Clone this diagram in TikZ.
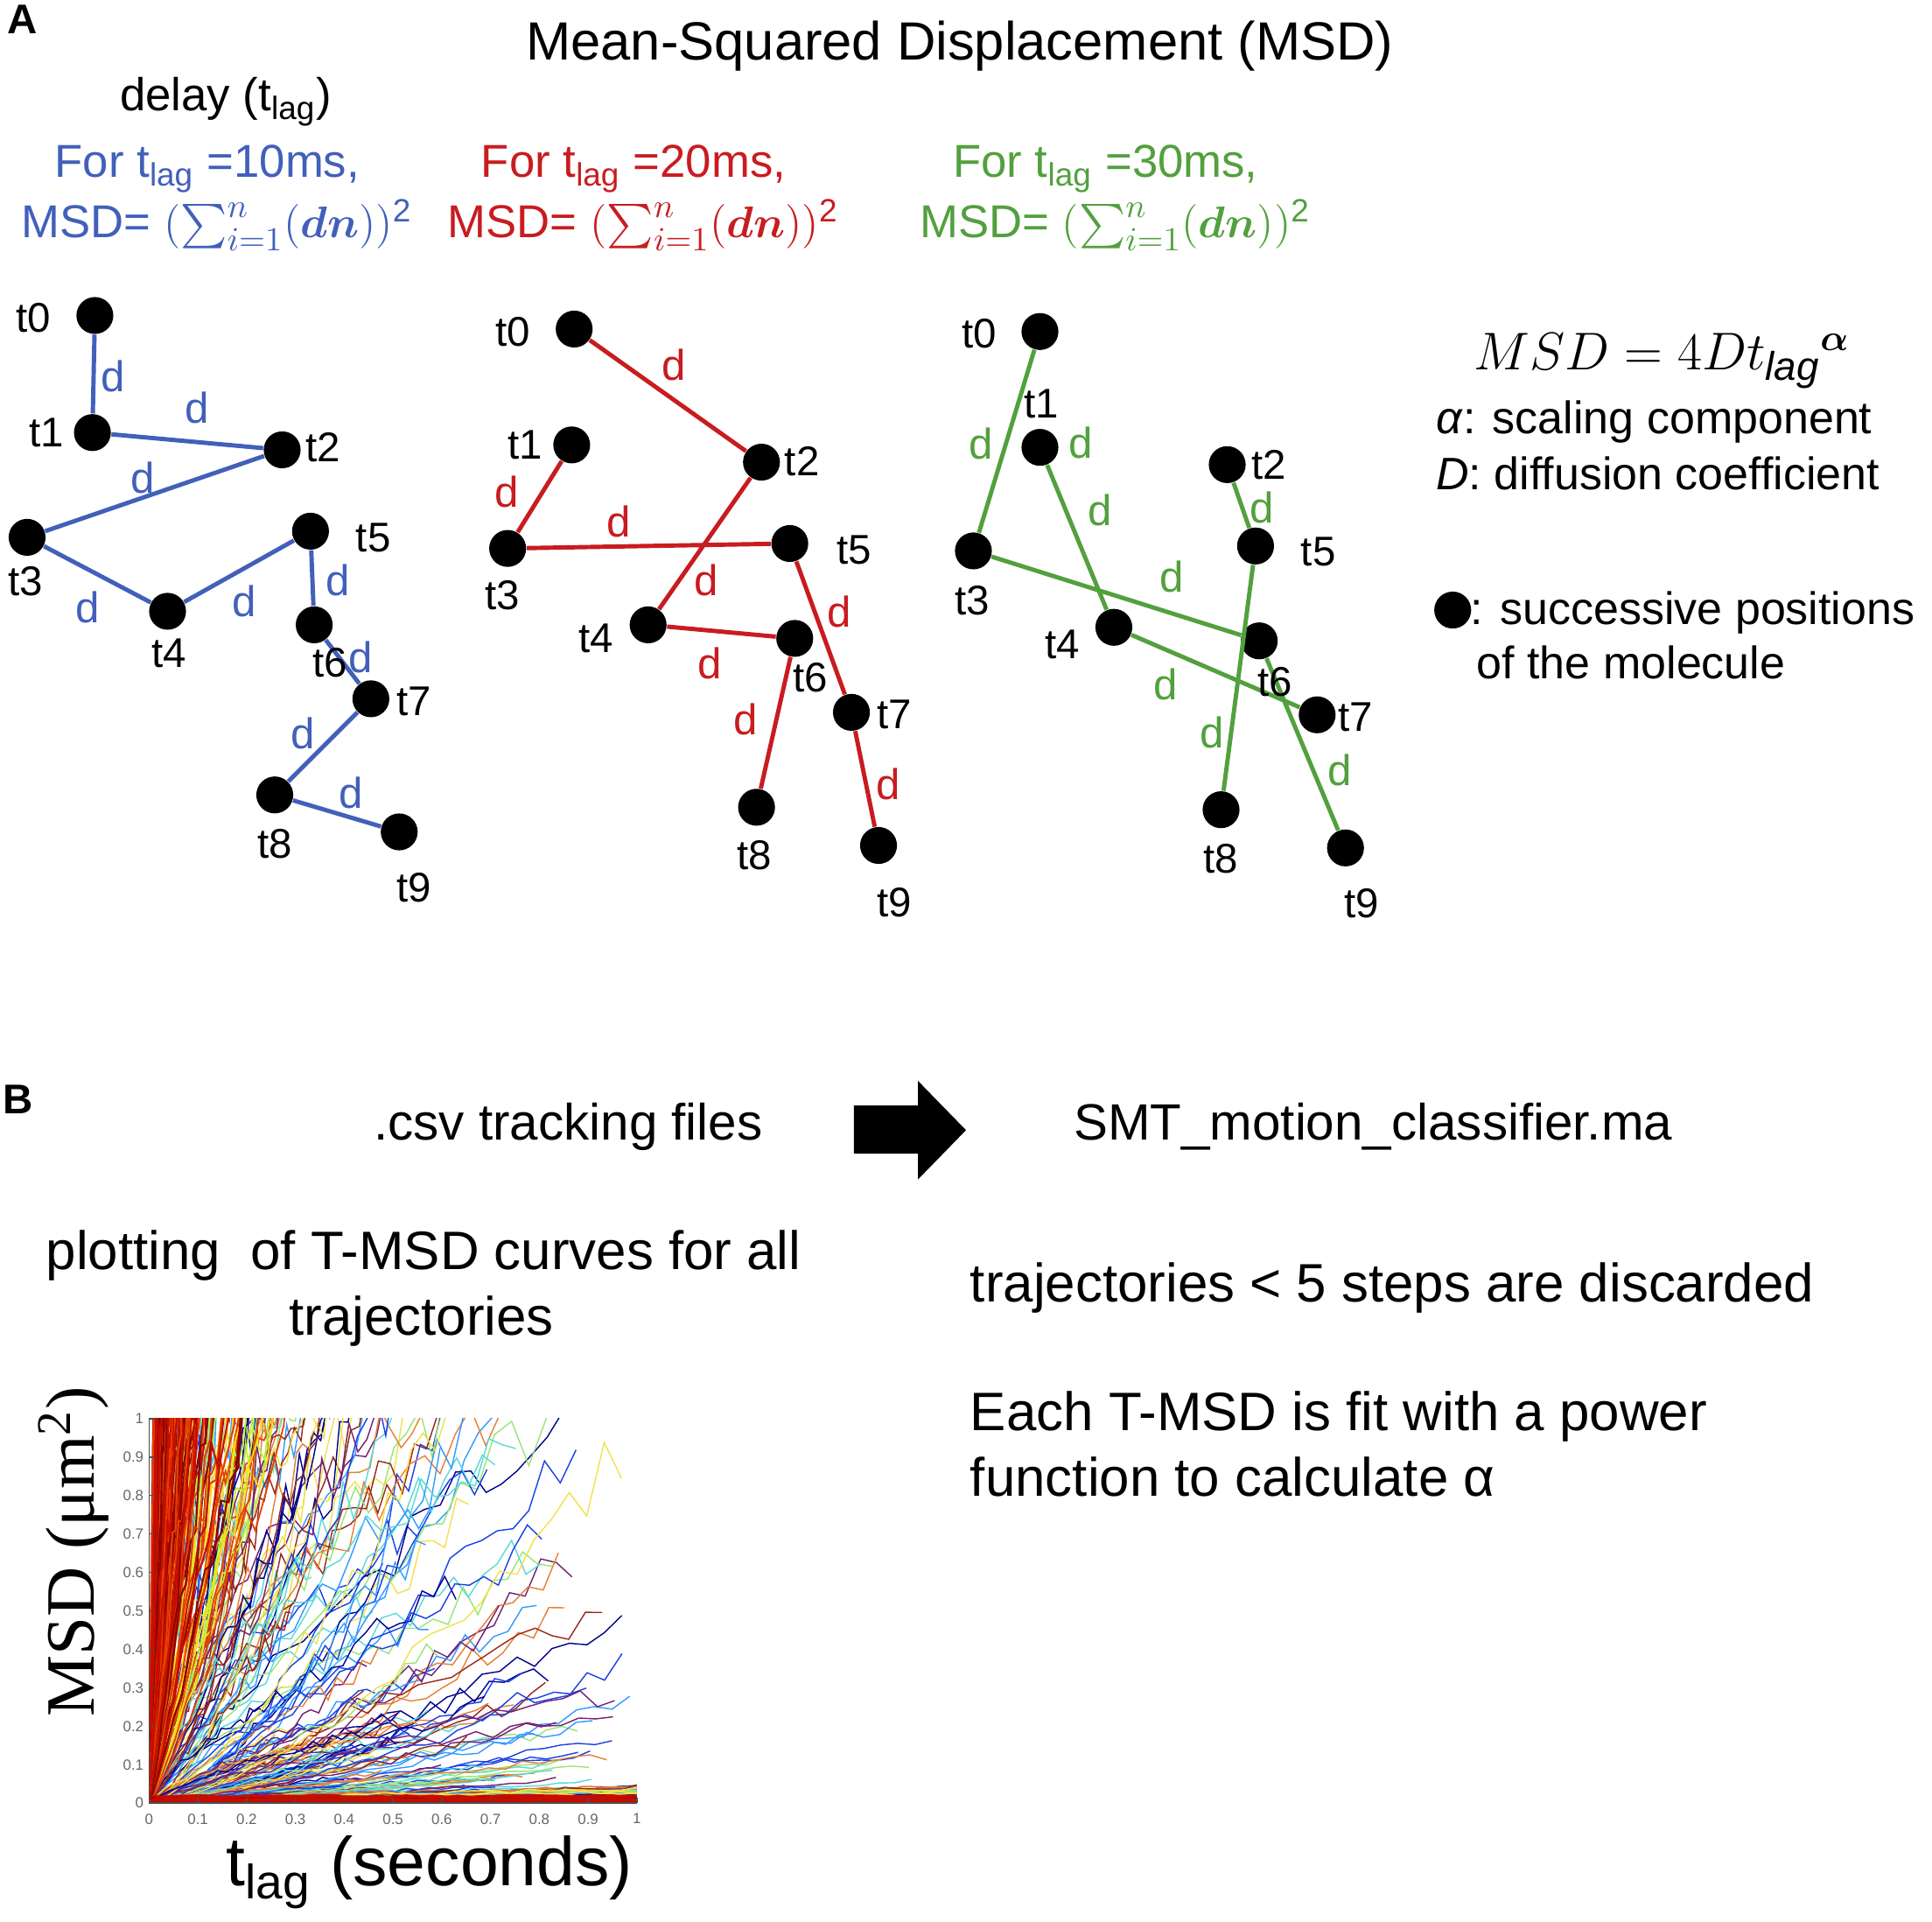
\documentclass[tikz,border=0pt]{standalone}
\usepackage{amsmath}
\usepackage{fontspec}
\setmainfont{Liberation Sans}
\newfontfamily\timesfont{Liberation Serif}
\usetikzlibrary{calc}

\definecolor{trkblue}{RGB}{66,96,186}
\definecolor{trkred}{RGB}{200,28,32}
\definecolor{trkgreen}{RGB}{82,160,62}
\definecolor{jet1}{rgb}{0,0,0.55}
\definecolor{jet2}{rgb}{0.1,0.25,0.9}
\definecolor{jet3}{rgb}{0.2,0.6,1}
\definecolor{jet4}{rgb}{0.35,0.85,0.85}
\definecolor{jet5}{rgb}{0.6,0.9,0.45}
\definecolor{jet6}{rgb}{0.95,0.88,0.3}
\definecolor{jet7}{rgb}{0.9,0.5,0.2}
\definecolor{jet8}{rgb}{0.6,0.15,0.1}
\definecolor{jet9}{rgb}{0.45,0.12,0.45}
\definecolor{hot1}{rgb}{0.78,0.05,0}
\definecolor{hot2}{rgb}{0.55,0.02,0}
\definecolor{hot3}{rgb}{0.9,0.25,0}
\definecolor{hot4}{rgb}{1,0.85,0.1}
\definecolor{hot5}{rgb}{0.75,0.95,0.2}

\tikzset{
  dot/.style={circle, fill=black, inner sep=0pt, minimum size=12pt},
  tlab/.style={font=\fontsize{13.5}{14}\selectfont, inner sep=0pt},
  dlab/.style={font=\fontsize{14}{14}\selectfont, inner sep=0pt},
  hdr/.style={font=\fontsize{15}{18}\selectfont, inner sep=0pt, anchor=base west},
  legend/.style={font=\fontsize{14.8}{18}\selectfont, inner sep=0pt, anchor=base west},
  btxt/.style={font=\fontsize{17.6}{21}\selectfont, inner sep=0pt, anchor=base west},
  panel/.style={font=\fontsize{13.5}{14}\selectfont\bfseries, inner sep=0pt},
  tick/.style={font=\fontsize{4.8}{5}\selectfont, text=black!60, inner sep=0pt},
  trk/.style={line width=1.4pt},
}

\begin{document}
\begin{tikzpicture}[x=0.01408cm, y=-0.01408cm]
\useasboundingbox (0,0) rectangle (1568,1559);

\node[panel] (lblA) at (18,16) {A};
\node[font=\fontsize{17.5}{20}\selectfont, inner sep=0pt, anchor=base] (title) at (779,49) {Mean-Squared Displacement (MSD)};
\node[hdr] (delay) at (97,90) {delay (t\textsubscript{lag})};

\node[hdr, text=trkblue] (forb) at (44,144) {For t\textsubscript{lag} =10ms,};
\node[hdr, text=trkblue] (msdb) at (17,193) {MSD= $(\sum_{i=1}^{n}(\boldsymbol{dn}))$\textsuperscript{2}};
\node[hdr, text=trkred] (forr) at (390,144) {For t\textsubscript{lag} =20ms,};
\node[hdr, text=trkred] (msdr) at (363,193) {MSD= $(\sum_{i=1}^{n}(\boldsymbol{dn}))$\textsuperscript{2}};
\node[hdr, text=trkgreen] (forg) at (773,144) {For t\textsubscript{lag} =30ms,};
\node[hdr, text=trkgreen] (msdg) at (746,193) {MSD= $(\sum_{i=1}^{n}(\boldsymbol{dn}))$\textsuperscript{2}};

\node[dot] (b0) at (77,256) {};
\node[dot] (b1) at (75,351) {};
\node[dot] (b2) at (229,365) {};
\node[dot] (b3) at (22,436) {};
\node[dot] (b4) at (136,496) {};
\node[dot] (b5) at (252,431) {};
\node[dot] (b6) at (255,507) {};
\node[dot] (b7) at (301,567) {};
\node[dot] (b8) at (223,645) {};
\node[dot] (b9) at (324,675) {};

\draw[trk, trkblue] (b0) -- (b1) -- (b2) -- (b3) -- (b4) -- (b5) -- (b6) -- (b7) -- (b8) -- (b9);

\node[tlab] (tb0) at (27,258) {t0};
\node[tlab] (tb1) at (38,351) {t1};
\node[tlab] (tb2) at (262,363) {t2};
\node[tlab] (tb3) at (21,472) {t3};
\node[tlab] (tb4) at (137,530) {t4};
\node[tlab] (tb5) at (303,436) {t5};
\node[tlab] (tb6) at (268,538) {t6};
\node[tlab] (tb7) at (336,569) {t7};
\node[tlab] (tb8) at (223,685) {t8};
\node[tlab] (tb9) at (336,720) {t9};

\node[dlab, text=trkblue] (db1) at (92,305) {d};
\node[dlab, text=trkblue] (db2) at (160,331) {d};
\node[dlab, text=trkblue] (db3) at (116,388) {d};
\node[dlab, text=trkblue] (db4) at (71,493) {d};
\node[dlab, text=trkblue] (db5) at (198,488) {d};
\node[dlab, text=trkblue] (db6) at (274,471) {d};
\node[dlab, text=trkblue] (db7) at (293,533) {d};
\node[dlab, text=trkblue] (db8) at (246,595) {d};
\node[dlab, text=trkblue] (db9) at (285,643) {d};

\node[dot] (r0) at (466,267) {};
\node[dot] (r1) at (464,361) {};
\node[dot] (r2) at (618,375) {};
\node[dot] (r3) at (412,445) {};
\node[dot] (r4) at (526,507) {};
\node[dot] (r5) at (641,441) {};
\node[dot] (r6) at (645,518) {};
\node[dot] (r7) at (691,578) {};
\node[dot] (r8) at (614,655) {};
\node[dot] (r9) at (713,686) {};

\draw[trk, trkred] (r0) -- (r2) (r1) -- (r3) (r2) -- (r4) (r3) -- (r5) (r4) -- (r6) (r5) -- (r7) (r6) -- (r8) (r7) -- (r9);

\node[tlab] (tr0) at (416,269) {t0};
\node[tlab] (tr1) at (426,361) {t1};
\node[tlab] (tr2) at (651,374) {t2};
\node[tlab] (tr3) at (408,483) {t3};
\node[tlab] (tr4) at (484,518) {t4};
\node[tlab] (tr5) at (693,446) {t5};
\node[tlab] (tr6) at (658,550) {t6};
\node[tlab] (tr7) at (726,580) {t7};
\node[tlab] (tr8) at (612,694) {t8};
\node[tlab] (tr9) at (726,732) {t9};

\node[dlab, text=trkred] (dr1) at (547,296) {d};
\node[dlab, text=trkred] (dr2) at (411,399) {d};
\node[dlab, text=trkred] (dr3) at (502,423) {d};
\node[dlab, text=trkred] (dr4) at (573,471) {d};
\node[dlab, text=trkred] (dr5) at (681,496) {d};
\node[dlab, text=trkred] (dr6) at (576,538) {d};
\node[dlab, text=trkred] (dr7) at (605,584) {d};
\node[dlab, text=trkred] (dr8) at (721,636) {d};

\node[dot] (g0) at (844,269) {};
\node[dot] (g1) at (844,363) {};
\node[dot] (g2) at (996,377) {};
\node[dot] (g3) at (790,447) {};
\node[dot] (g4) at (904,509) {};
\node[dot] (g5) at (1019,443) {};
\node[dot] (g6) at (1022,520) {};
\node[dot] (g7) at (1069,580) {};
\node[dot] (g8) at (991,657) {};
\node[dot] (g9) at (1092,688) {};

\draw[trk, trkgreen] (g0) -- (g3) (g1) -- (g4) (g2) -- (g5) (g3) -- (g6) (g4) -- (g7) (g5) -- (g8) (g6) -- (g9);

\node[tlab] (tg0) at (795,271) {t0};
\node[tlab] (tg1) at (845,328) {t1};
\node[tlab] (tg2) at (1030,377) {t2};
\node[tlab] (tg3) at (789,487) {t3};
\node[tlab] (tg4) at (862,523) {t4};
\node[tlab] (tg5) at (1070,448) {t5};
\node[tlab] (tg6) at (1035,553) {t6};
\node[tlab] (tg7) at (1100,582) {t7};
\node[tlab] (tg8) at (991,697) {t8};
\node[tlab] (tg9) at (1105,733) {t9};

\node[dlab, text=trkgreen] (dg1) at (796,360) {d};
\node[dlab, text=trkgreen] (dg2) at (877,359) {d};
\node[dlab, text=trkgreen] (dg3) at (893,414) {d};
\node[dlab, text=trkgreen] (dg4) at (1024,412) {d};
\node[dlab, text=trkgreen] (dg5) at (951,468) {d};
\node[dlab, text=trkgreen] (dg6) at (946,555) {d};
\node[dlab, text=trkgreen] (dg7) at (984,594) {d};
\node[dlab, text=trkgreen] (dg8) at (1087,625) {d};

\node[font=\fontsize{18.6}{20}\selectfont, anchor=base west, inner sep=0pt] (law) at (1196,300) {$MSD = 4D{t_{\textit{lag}}}^{\boldsymbol{\alpha}}$};
\node[legend] (alpha) at (1165,352) {\textit{α}: scaling component};
\node[legend] (diff) at (1165,397) {\textit{D}: diffusion coefficient};
\node[dot] (ldot) at (1179,495) {};
\node[legend] (succ) at (1193,507) {: successive positions};
\node[legend] (mol) at (1198,551) {of the molecule};

\node[panel] (lblB) at (15,892) {B};
\node[btxt, font=\fontsize{16.6}{20}\selectfont] (csv) at (303,925) {.csv tracking files};
\fill (693,897) -- (745,897) -- (745,877) -- (784,917) -- (745,957) -- (745,936) -- (693,936) -- cycle;
\node[btxt, font=\fontsize{16.6}{20}\selectfont] (smt) at (871,925) {SMT\_motion\_classifier.ma};
\node[btxt] (plotting) at (37,1030) {plotting\ \ of T-MSD curves for all};
\node[btxt, anchor=base] (traj) at (342,1083) {trajectories};
\node[btxt] (disc) at (787,1056) {trajectories < 5 steps are discarded};
\node[btxt] (fit1) at (787,1161) {Each T-MSD is fit with a power};
\node[btxt] (fit2) at (787,1214) {function to calculate α};

\begin{scope}[shift={(121,1463)}, x=5.5757cm, y=4.393cm]
\begin{scope}
\clip (0,0) rectangle (1,1);
\pgfmathsetseed{2024}
\foreach \i in {1,...,190}{
  \pgfmathsetmacro\kk{exp(-2.8+5.0*rnd)}
  \pgfmathsetmacro\ex{0.6+1.0*rnd}
  \pgfmathsetmacro\xe{min(0.25+0.75*rnd,(1.15/\kk)^(1/\ex))}
  \pgfmathtruncatemacro\cc{random(1,9)}
  \draw[color=jet\cc, line width=0.4pt] plot[domain=0.003:\xe, samples=28] (\x, {\kk*\x^\ex*(1+0.1*rand)});
}
\foreach \i in {1,...,40}{
  \pgfmathsetmacro\kk{0.003+0.04*rnd}
  \pgfmathsetmacro\ex{0.5+0.5*rnd}
  \pgfmathtruncatemacro\cc{random(1,9)}
  \draw[color=jet\cc, line width=0.5pt] plot[domain=0.003:1, samples=28] (\x, {\kk*\x^\ex*(1+0.2*rand)});
}
\foreach \i in {1,...,35}{
  \pgfmathsetmacro\kk{exp(1.6+1.2*rnd)}
  \pgfmathsetmacro\ex{0.9+0.4*rnd}
  \pgfmathsetmacro\xe{(1.15/\kk)^(1/\ex)}
  \pgfmathtruncatemacro\cc{random(3,5)}
  \draw[color=hot\cc, line width=0.5pt] plot[domain=0.003:\xe, samples=16] (\x, {\kk*\x^\ex*(1+0.1*rand)});
}
\foreach \i in {1,...,90}{
  \pgfmathsetmacro\kk{exp(2.0+2.3*rnd)}
  \pgfmathsetmacro\ex{0.85+0.4*rnd}
  \pgfmathsetmacro\xe{(1.15/\kk)^(1/\ex)}
  \pgfmathtruncatemacro\cc{random(1,3)}
  \draw[color=hot\cc, line width=0.6pt] plot[domain=0.003:\xe, samples=14] (\x, {\kk*\x^\ex*(1+0.1*rand)});
}
\foreach \i in {1,...,25}{
  \pgfmathsetmacro\kk{0.002+0.015*rnd}
  \pgfmathtruncatemacro\cc{random(1,2)}
  \draw[color=hot\cc, line width=0.7pt] plot[domain=0.003:1, samples=20] (\x, {\kk*(1+0.3*rand)});
}
\end{scope}
\draw[black!70, line width=0.5pt] (0,1) -- (0,0) -- (1,0);
\foreach \n in {0,...,10}{
  \draw[black!70, line width=0.4pt] (0,\n/10) -- (0.012,\n/10);
  \draw[black!70, line width=0.4pt] (\n/10,0) -- (\n/10,0.015);
}
\node[tick, anchor=east] (yt0) at (-0.01,0) {0};
\node[tick, anchor=north] (xt0) at (0,-0.026) {0};
\foreach \n in {1,...,9}{
  \node[tick, anchor=east] (yt\n) at (-0.01,\n/10) {0.\n};
  \node[tick, anchor=north] (xt\n) at (\n/10,-0.026) {0.\n};
}
\node[tick, anchor=east] (yt10) at (-0.01,1) {1};
\node[tick, anchor=north] (xt10) at (1,-0.026) {1};
\end{scope}

\node[font=\timesfont\fontsize{22.5}{24}\selectfont, rotate=90, anchor=base, inner sep=0pt] (ylab) at (76,1259) {MSD (μm\textsuperscript{2})};
\node[font=\fontsize{22.4}{24}\selectfont, anchor=base west, inner sep=0pt] (xlab) at (183,1530) {t\textsubscript{lag} (seconds)};

\end{tikzpicture}
\end{document}
